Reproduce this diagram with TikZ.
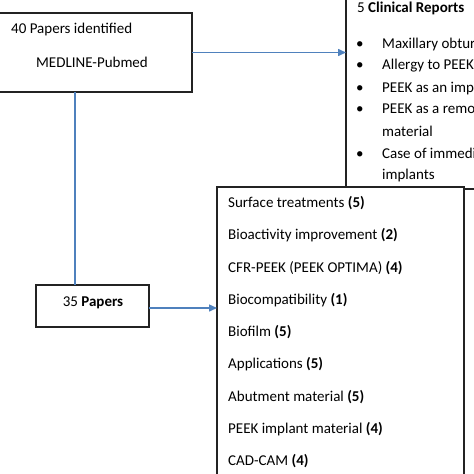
\documentclass[tikz,border=0pt]{standalone}
\usepackage{fontspec}
\setmainfont{Carlito}
\usetikzlibrary{arrows.meta}
\definecolor{arrowblue}{RGB}{79,129,189}
\definecolor{boxline}{RGB}{35,35,35}
\begin{document}
\begin{tikzpicture}[x=1pt,y=-1pt,
  box/.style={draw=boxline, line width=1.3pt, fill=white, inner sep=0pt, outer sep=0pt},
  txt/.style={anchor=base west, inner sep=0pt, font=\fontsize{15}{18}\selectfont},
  ctxt/.style={anchor=base, inner sep=0pt, font=\fontsize{15}{18}\selectfont},
  link/.style={draw=arrowblue, line width=1.5pt},
  arr/.style={link, -{Triangle[length=8pt,width=7pt]}}]
\useasboundingbox (0,0) rectangle (474,474);
\clip (0,0) rectangle (474,474);

% box 1
\node[box, minimum width=195pt, minimum height=79pt] (b1) at (94.5,52.5) {};
\node[txt] (t1a) at (11,33) {40 Papers identified};
\node[ctxt] (t1b) at (92,67) {MEDLINE-Pubmed};

% box 2 (clinical reports)
\node[box, minimum width=154pt, minimum height=194pt] (b2) at (423,92) {};
\node[txt] (t2) at (357,12) {5 \textbf{Clinical Reports}};
\foreach \n/\y/\t in {c1/48/Maxillary obturator, c2/69/Allergy to PEEK, c3/92/PEEK as an implant, c4/113/PEEK as a removable, c6/158/Case of immediate}{
  \node[txt] (\n b) at (356,\y) {\textbullet};
  \node[txt] (\n) at (382,\y) {\t};
}
\node[txt] (c5) at (382,136) {material};
\node[txt] (c7) at (382,179) {implants};

% box 3 (topics)
\node[box, minimum width=247pt, minimum height=303pt] (b3) at (340.5,338.5) {};
\foreach \n/\y/\t in {s1/207/{Surface treatments \textbf{(5)}},
  s2/239/{Bioactivity improvement \textbf{(2)}},
  s3/272/{CFR-PEEK (PEEK OPTIMA) \textbf{(4)}},
  s4/304/{Biocompatibility \textbf{(1)}},
  s5/336/{Biofilm \textbf{(5)}},
  s6/368/{Applications \textbf{(5)}},
  s7/401/{Abutment material \textbf{(5)}},
  s8/433/{PEEK implant material \textbf{(4)}},
  s9/465/{CAD-CAM \textbf{(4)}}}{
  \node[txt] (\n) at (228,\y) {\t};
}

% box 35 papers
\node[box, minimum width=113pt, minimum height=42pt] (b35) at (92.5,306) {};
\node[ctxt] (t35) at (93,306) {35 \textbf{Papers}};

% connectors
\coordinate (v) at (75,92);
\draw[link] (v) -- (v |- b35.north);
\draw[arr] (b1.east) -- (b1.east -| b2.west);
\draw[arr] ([yshift=-2pt]b35.east) -- ([yshift=-2pt]b35.east -| b3.west);
\end{tikzpicture}
\end{document}
